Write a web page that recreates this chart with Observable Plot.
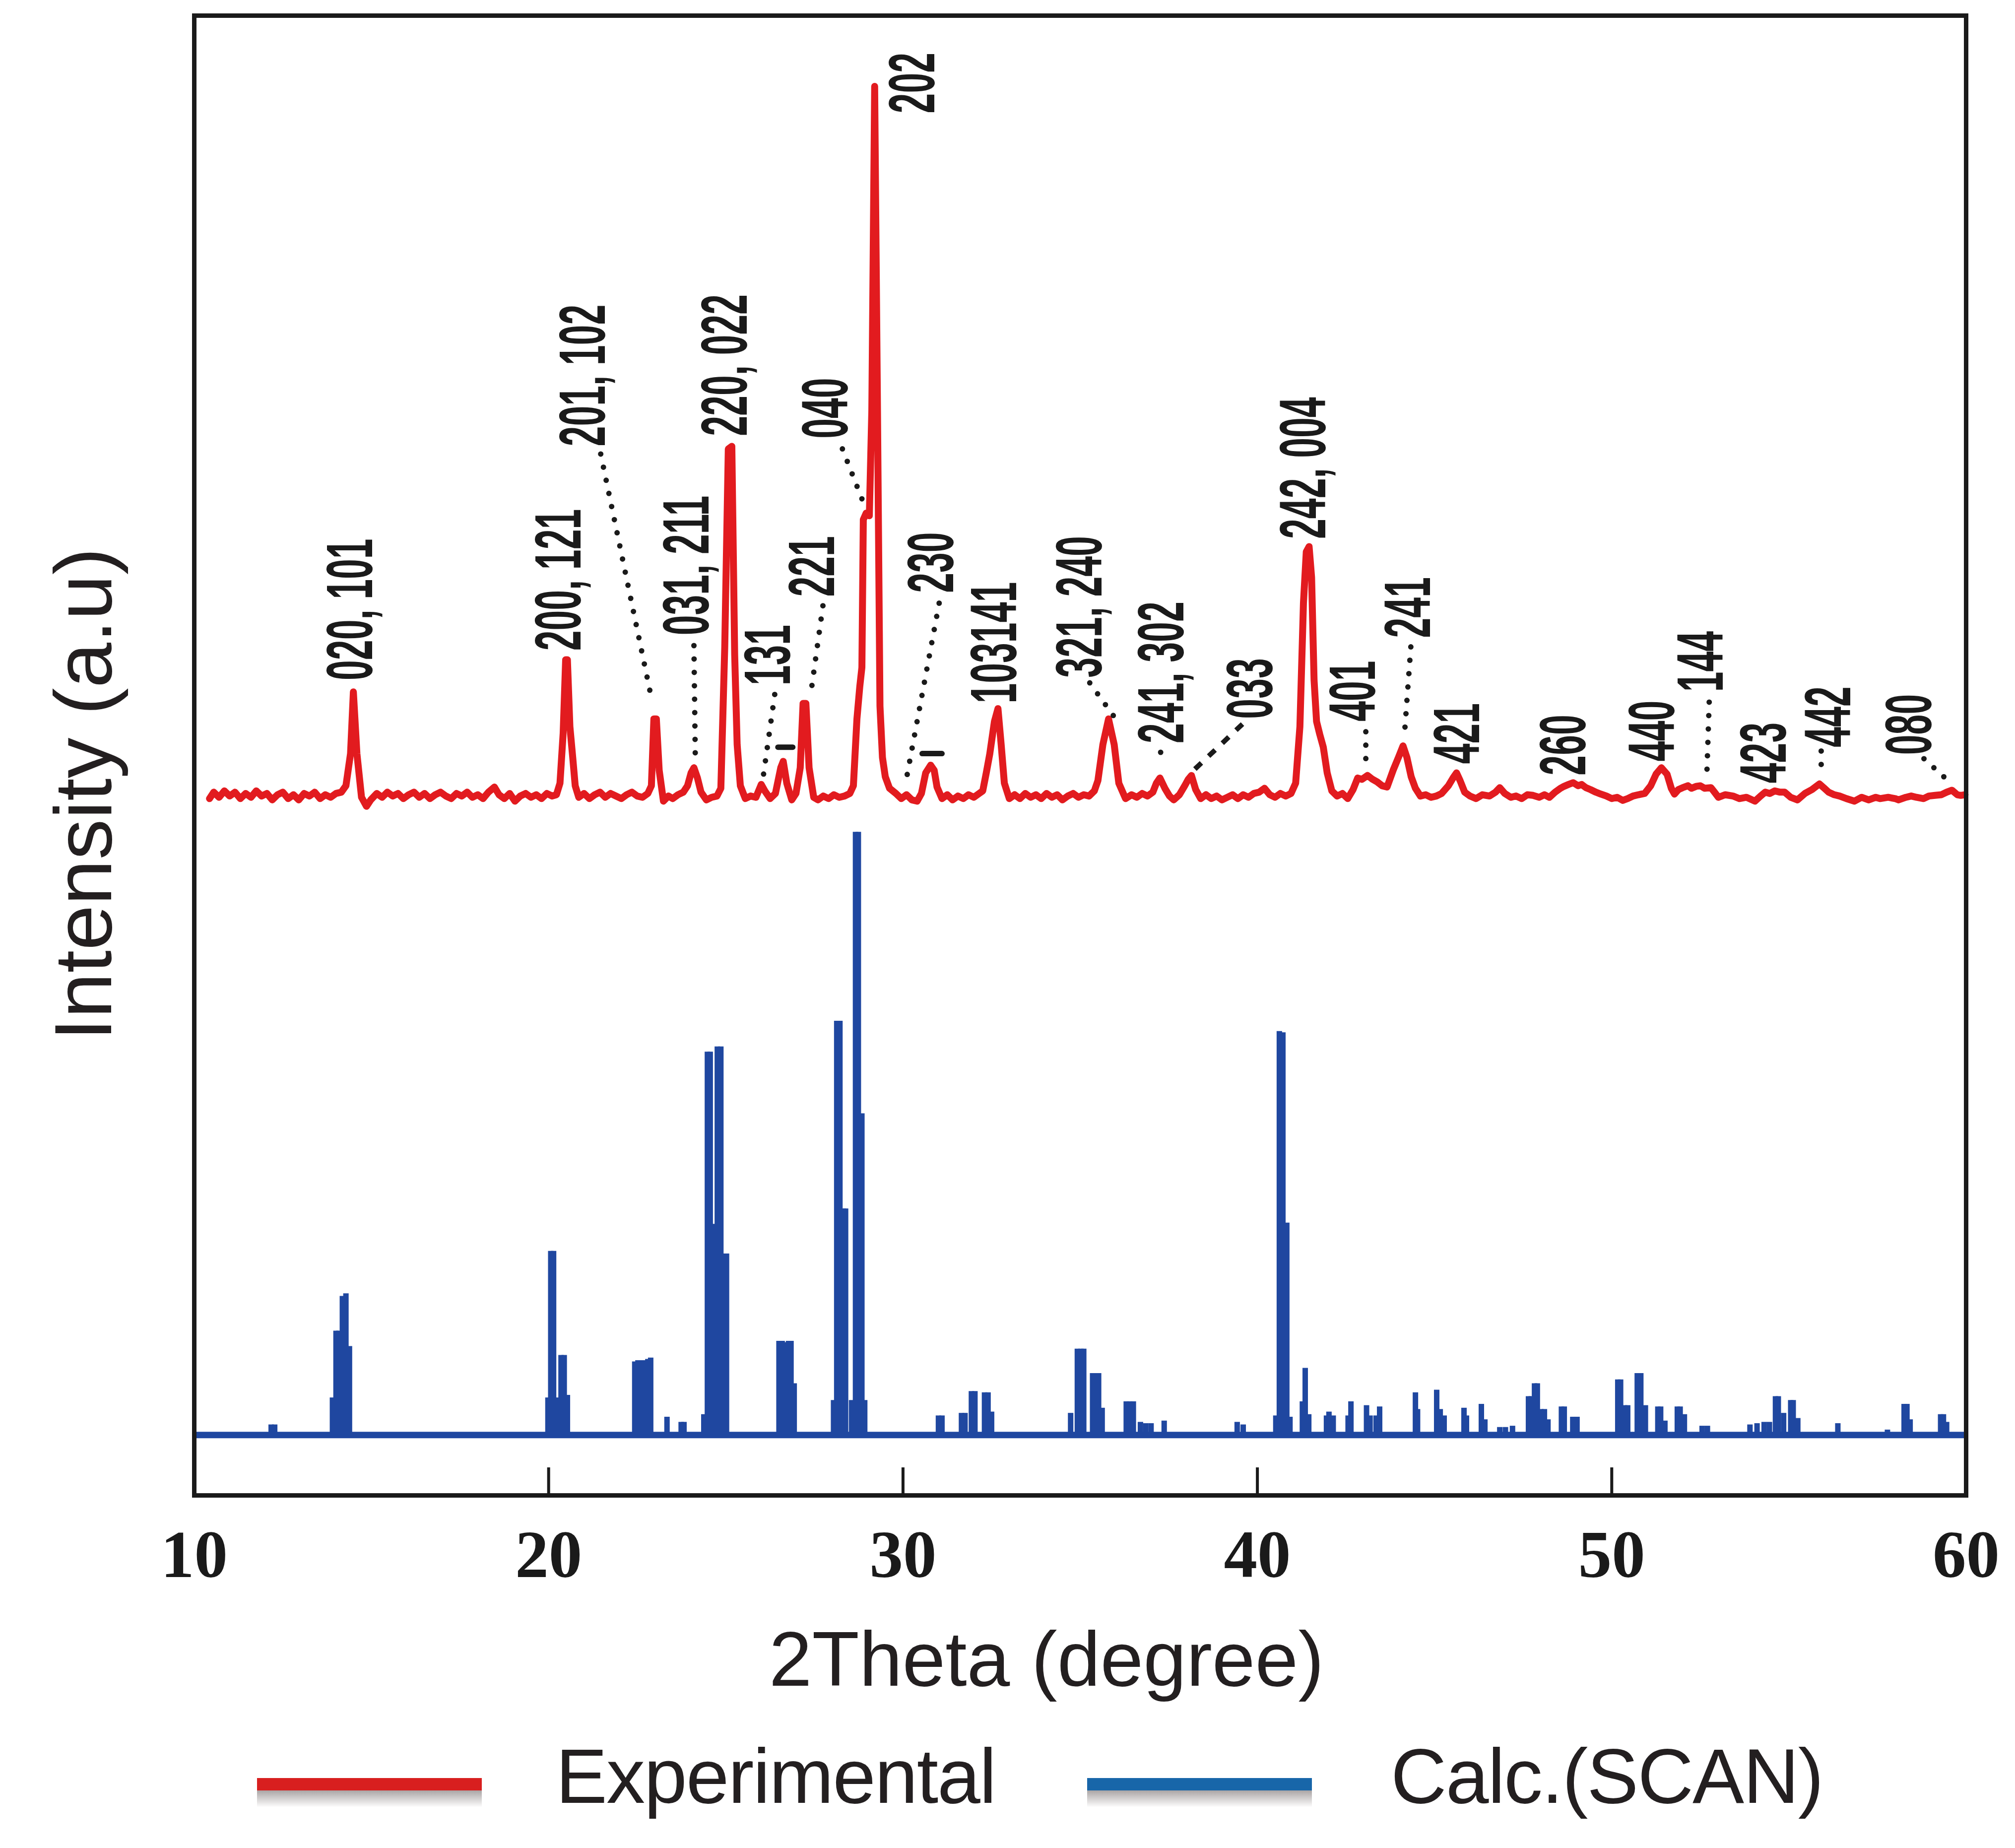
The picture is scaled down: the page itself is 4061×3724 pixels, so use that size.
<!DOCTYPE html>
<html><head><meta charset="utf-8">
<script src="https://cdn.jsdelivr.net/npm/d3@7"></script>
<script src="https://cdn.jsdelivr.net/npm/@observablehq/plot@0.6"></script>
<style>
html,body{margin:0;padding:0;background:#fff;}
#chart{width:4061px;}
#legend{position:relative;width:4061px;height:264px;font-family:"Liberation Sans",Arial,sans-serif;color:#231f20;}
.sw{position:absolute;top:123px;height:25px;width:453px;}
.sw::after{content:"";position:absolute;left:0;right:0;top:25px;height:34px;background:linear-gradient(#aaa5a5,rgba(215,215,215,0));}
.lt{position:absolute;top:41px;font-size:156px;line-height:1;letter-spacing:-2px;white-space:nowrap;}
</style></head><body>
<div id="chart"></div>
<div id="legend"></div>
<script>
// ---- data (2theta in degrees, intensity in arbitrary units) ----
const xTicks = [10, 20, 30, 40, 50, 60];
const seriesNames = ["Experimental", "Calc.(SCAN)"];
const expOffset = 544;   // vertical stacking offset of the experimental pattern
const calcOffset = 47;   // vertical stacking offset of the calculated pattern

// experimental pattern [2theta, intensity above its baseline]
const expPattern = [
[10.43,-2],[10.55,3],[10.7,-1],[10.85,4],[11.0,0],[11.15,3],[11.3,-2],[11.45,2],[11.6,-1],[11.75,4],[11.9,0],[12.05,2],[12.2,-3],[12.35,1],[12.5,3],[12.65,-2],[12.8,1],[12.95,-3],[13.1,2],[13.25,0],[13.4,3],[13.55,-2],[13.7,1],[13.85,-1],[14.0,2],[14.15,3],
[14.28,8],[14.41,33],[14.49,81],[14.59,33],[14.72,-1],[14.86,-8],[14.98,-3],
[15.15,2],[15.3,-1],[15.45,3],[15.6,0],[15.75,2],[15.9,-2],[16.05,1],[16.2,3],[16.35,-1],[16.5,2],[16.65,-2],[16.8,1],[16.95,3],[17.1,0],[17.25,-2],[17.4,2],[17.55,0],[17.7,3],[17.85,-1],[18.0,1],[18.15,-2],[18.3,3],[18.47,7],[18.6,1],[18.75,-2],[18.9,2],[19.05,-4],[19.2,0],[19.35,2],[19.5,-1],[19.65,1],[19.8,-2],[19.95,2],[20.1,0],[20.22,1],
[20.32,10],[20.41,49],[20.48,106],[20.53,106],[20.6,54],[20.68,30],[20.75,8],[20.85,-1],
[21.0,2],[21.15,-2],[21.3,1],[21.45,3],[21.6,-1],[21.75,2],[21.9,0],[22.05,-2],[22.2,1],[22.35,3],[22.5,0],[22.65,-1],[22.8,2],
[22.9,8],[22.97,60],[23.04,60],[23.12,20],[23.24,-4],[23.38,0],[23.5,-2],[23.65,1],[23.8,3],
[23.92,8],[24.02,18],[24.1,22],[24.2,14],[24.3,3],[24.45,-3],[24.6,-1],[24.75,0],
[24.86,6],[24.97,116],[25.07,270],[25.17,272],[25.25,110],[25.32,40],[25.41,8],[25.55,-2],[25.7,0],[25.85,-1],
[26.0,9],[26.1,4],[26.25,-2],[26.4,2],
[26.55,22],[26.62,27],[26.72,10],[26.86,-3],[26.98,2],
[27.1,22],[27.18,72],[27.26,72],[27.35,22],[27.48,-1],[27.6,-3],[27.75,0],[27.9,-2],[28.05,1],[28.2,-1],[28.35,0],[28.5,2],
[28.6,8],[28.7,60],[28.78,85],[28.84,100],[28.88,215],[28.96,220],[29.05,218],[29.12,300],[29.2,552],[29.28,300],[29.35,70],[29.42,30],[29.5,15],[29.62,6],[29.8,2],
[29.95,-2],[30.1,1],[30.25,-3],[30.4,-4],[30.52,2],
[30.64,18],[30.78,24],[30.88,20],[30.96,7],[31.1,-2],[31.25,1],[31.4,-3],[31.55,0],[31.7,-2],[31.85,1],[32.0,-1],[32.15,2],[32.25,4],
[32.35,18],[32.45,33],[32.58,58],[32.68,68],[32.77,40],[32.86,10],[33.0,-2],
[33.15,1],[33.3,-2],[33.45,2],[33.6,-1],[33.75,1],[33.9,-2],[34.05,2],[34.2,-1],[34.35,1],[34.5,-3],[34.65,0],[34.8,2],[34.95,-1],[35.1,1],[35.25,0],[35.4,4],
[35.5,12],[35.64,40],[35.8,60],[35.96,40],[36.09,10],[36.28,-2],[36.45,1],[36.6,-1],[36.75,2],[36.9,0],[37.05,3],
[37.15,10],[37.25,14],[37.39,6],[37.52,0],[37.64,-3],[37.8,1],[37.95,8],[38.05,13],[38.14,16],[38.26,5],[38.4,-2],[38.55,1],[38.7,-2],[38.85,0],[39.0,-3],[39.15,-1],[39.3,1],[39.45,-2],[39.6,1],[39.75,-1],[39.9,2],[40.05,3],[40.2,6],[40.35,1],[40.5,-1],[40.65,2],[40.8,0],[40.95,2],
[41.08,10],[41.2,54],[41.3,150],[41.38,190],[41.46,194],[41.53,170],[41.6,90],[41.67,58],[41.76,48],[41.86,38],[41.97,18],[42.1,4],[42.25,0],[42.4,2],[42.55,-2],[42.7,5],
[42.83,14],[42.95,13],[43.11,16],[43.25,13],[43.38,11],[43.52,8],[43.66,7],
[43.83,20],[43.98,30],[44.11,39],[44.22,30],[44.34,15],[44.46,6],[44.6,0],[44.75,1],[44.9,-1],[45.05,0],[45.2,2],
[45.39,8],[45.52,14],[45.62,18],[45.72,12],[45.85,3],[46.0,0],[46.17,-2],[46.35,1],[46.55,0],[46.72,3],[46.84,6.5],[46.98,2],[47.15,-1],[47.3,0],[47.46,-2],[47.62,1],[47.78,0.5],[47.95,-1],[48.1,1],[48.24,-1],[48.4,3],[48.55,6],[48.65,7.5],[48.78,9],[48.91,10.4],[49.05,8],[49.15,9],[49.27,6.5],[49.4,5],[49.55,3],[49.69,1.5],[49.85,0],[50.0,-2],[50.15,-1],[50.31,-3.4],[50.45,-2],[50.6,0],[50.75,1],[50.93,2],
[51.1,8],[51.25,17],[51.4,22],[51.56,17],[51.68,6],[51.77,1.5],[51.88,5],[52.0,6.5],[52.15,8],[52.25,6],[52.38,7.5],[52.5,8],[52.62,6],[52.8,6.5],[52.9,3],[53.01,-1],[53.2,1],[53.42,0],[53.6,-2],[53.8,-1],[54.04,-4],[54.2,0],[54.33,3],[54.46,2],[54.6,4],[54.75,3],[54.88,3],[55.05,-1],[55.24,-3],[55.45,2],[55.65,5],[55.86,9.4],[56.0,6],[56.12,3],[56.28,1],[56.43,0],[56.62,-2],[56.85,-4],[57.05,-1],[57.25,-3],[57.45,-1],[57.57,-2],[57.8,-1],[58.0,-2],[58.09,-3],[58.3,-1],[58.45,0],[58.6,-1],[58.8,-2],[58.95,0],[59.12,0.5],[59.3,1],[59.45,3],[59.6,4.5],[59.75,1],[59.85,0.5],[59.97,1]
];

// calculated (SCAN) reflections [2theta, intensity above its baseline]
const calcSticks = [
[12.17,8],[12.27,8],
[13.9,29],[14.0,81],[14.08,81],[14.18,108],[14.28,110],[14.38,69],
[19.98,29],[20.06,143],[20.14,143],[20.24,29],[20.35,62],[20.44,62],[20.53,31],
[22.43,57],[22.52,58],[22.61,58],[22.7,58],[22.8,59],[22.88,60],
[23.34,14],[23.74,10],[23.82,10],
[24.38,16],[24.48,298],[24.56,298],[24.64,164],[24.76,302],[24.86,302],[24.95,141],[25.02,141],
[26.5,73],[26.59,73],[26.68,72],[26.77,73],[26.84,73],[26.93,40],
[28.04,27],[28.13,322],[28.22,322],[28.32,176],[28.38,176],
[28.55,27],[28.66,469],[28.74,469],[28.84,250],[28.92,27],
[31.0,15],[31.1,15],
[31.65,17],[31.75,17],[31.93,34],[32.03,34],[32.3,33],[32.4,33],[32.5,18],
[34.73,17],[34.92,67],[35.02,67],[35.1,67],[35.35,48],[35.45,48],[35.52,48],[35.62,21],
[36.3,26],[36.4,26],[36.5,26],[36.7,10],[36.85,9],[37.0,9],[37.37,11],
[39.43,10],[39.6,8],
[40.52,15],[40.62,314],[40.72,313],[40.83,165],[40.92,14],
[41.27,26],[41.35,52],[41.45,16],
[41.95,15],[42.02,18],[42.14,15],
[42.56,15],[42.64,26],
[43.08,23],[43.18,15],[43.35,15],[43.45,22],
[44.46,33],[44.52,20],
[45.06,35],[45.16,20],[45.27,15],
[45.83,21],[45.9,15],
[46.32,24],[46.42,12],
[46.84,6],[47.0,6],[47.2,7],
[47.65,30],[47.73,30],[47.82,40],[47.9,40],[48.0,20],[48.1,20],[48.2,12],[48.58,22],[48.66,22],[48.9,14],[49.02,14],
[50.17,43],[50.25,43],[50.36,23],[50.45,23],[50.72,48],[50.82,48],[50.95,23],[51.3,22],[51.38,22],[51.5,11],[51.85,22],[51.93,22],[52.05,16],[52.55,7],[52.7,7],
[53.9,8],[54.1,9],[54.3,10],[54.45,10],[54.62,30],[54.7,30],[54.85,17],[55.05,27],[55.12,27],[55.25,13],
[56.38,9],[57.78,4],
[58.25,24],[58.33,24],[58.42,12],
[59.28,16],[59.36,16],[59.45,10]
];

// Miller-index labels [text, 2theta, height on the experimental scale]
const hklLabels = [
["020, 101",14.43,90],["200, 121",20.32,113],["201, 102",21.0,272],["031, 211",23.93,125],
["220, 022",25.0,280],["131",26.22,86],["221",27.47,155],["040",27.85,278],["202",30.3,531],
["230",30.83,158],["103141",32.61,72],["321, 240",35.02,92],["241, 302",37.33,41],["033",39.83,60],
["242, 004",41.33,200],["401",42.73,58],["241",44.29,123],["421",45.67,25],["260",48.67,16],
["440",51.17,27],["144",52.54,81],["423",54.33,10],["442",56.14,38],["080",58.42,32]
];
// dotted leader lines [2theta1, h1, 2theta2, h2]
const dottedLeaders = [
[21.47,266,22.91,75],[24.1,117,24.14,27],[26.38,79,26.05,14],[27.74,148,27.38,76],
[28.29,270,28.97,222],[31.02,150,30.1,14],[35.27,88,35.95,62],[37.27,34,37.27,24],
[43.06,50,43.06,20],[44.33,116,44.14,44],[52.75,73,52.68,14],[55.91,35,55.91,16],[58.81,29,59.49,12]
];
const dashedLeaders = [[39.58,56,38.2,20]];
// small horizontal markers above minor reflections [2theta1, 2theta2, height]
const minorMarks = [[26.47,26.89,38],[30.54,31.1,33]];

// ---- chart ----
const W = 4061, H = 3460;
const mTop = 31, mBottom = H - 3013, mLeft = 391, mRight = W - 3962;
const frameH = H - mTop - mBottom;
const red = "#e21b1f", blue = "#1f47a0", ink = "#1a1a1a";
const sans = "Liberation Sans, Arial, Helvetica, sans-serif";
const hklSize = 131;

const chart = Plot.plot({
  width: W, height: H,
  marginTop: mTop, marginBottom: mBottom, marginLeft: mLeft, marginRight: mRight,
  style: {fontFamily: sans, background: "#fff", color: ink},
  x: {domain: [10, 60]},
  y: {domain: [0, 1151], axis: null},
  marks: [
    Plot.ruleY([calcOffset], {stroke: blue, strokeWidth: 13}),
    Plot.ruleX(calcSticks, {x: d => d[0], y1: calcOffset, y2: d => calcOffset + d[1], stroke: blue, strokeWidth: 11}),
    Plot.line(expPattern, {x: d => d[0], y: d => expOffset + d[1], stroke: red, strokeWidth: 14, strokeLinejoin: "round", curve: "linear"}),
    Plot.link(dottedLeaders, {x1: d => d[0], y1: d => expOffset + d[1], x2: d => d[2], y2: d => expOffset + d[3],
      stroke: ink, strokeWidth: 11, strokeDasharray: "0 27", strokeLinecap: "round"}),
    Plot.link(dashedLeaders, {x1: d => d[0], y1: d => expOffset + d[1], x2: d => d[2], y2: d => expOffset + d[3],
      stroke: ink, strokeWidth: 10, strokeDasharray: "18 20"}),
    Plot.link(minorMarks, {x1: d => d[0], x2: d => d[1], y1: d => expOffset + d[2], y2: d => expOffset + d[2],
      stroke: ink, strokeWidth: 11, strokeLinecap: "round"}),
    Plot.text(hklLabels, {x: d => d[1], y: d => expOffset + d[2], text: d => d[0], rotate: -90,
      textAnchor: "start", lineAnchor: "middle", fontSize: hklSize, fontWeight: "bold", fill: ink, fontFamily: sans}),
    Plot.frame({stroke: ink, strokeWidth: 9}),
    Plot.ruleX(xTicks.filter(t => t > 10 && t < 60), {stroke: ink, strokeWidth: 6, insetTop: frameH - 56}),
    Plot.axisX({ticks: xTicks, tickSize: 0, tickPadding: 69, fontSize: 135, fontWeight: "bold",
      fontFamily: "Liberation Serif, Times New Roman, serif", label: null, fill: ink}),
    Plot.text(["2Theta (degree)"], {frameAnchor: "bottom", textAnchor: "middle", lineAnchor: "middle", dx: -68, dy: 334, fontSize: 156, fill: "#231f20"}),
    Plot.text(["Intensity (a.u)"], {frameAnchor: "left", rotate: -90, textAnchor: "middle", lineAnchor: "middle", dx: -220, dy: 78, fontSize: 164, fill: "#231f20"})
  ]
});
document.getElementById("chart").appendChild(chart);

// condense the Miller-index labels like the narrow bold face of the original
const hklSet = new Set(hklLabels.map(d => d[0]));
chart.querySelectorAll("text").forEach(t => {
  const g = t.closest("g");
  const fs = g ? g.getAttribute("font-size") : null;
  if (fs === String(hklSize) && hklSet.has(t.textContent)) {
    const len = t.getComputedTextLength();
    if (len > 0) {
      t.setAttribute("textLength", (len * 0.56).toFixed(1));
      t.setAttribute("lengthAdjust", "spacingAndGlyphs");
    }
  }
});

// ---- legend ----
const legend = document.getElementById("legend");
const legendColors = ["#d81f1f", "#1866a9"];
const swatchLeft = [518, 2191], textLeft = [1120, 2803];
seriesNames.forEach((name, i) => {
  const sw = document.createElement("div");
  sw.className = "sw";
  sw.style.left = swatchLeft[i] + "px";
  sw.style.background = legendColors[i];
  legend.appendChild(sw);
  const tx = document.createElement("div");
  tx.className = "lt";
  tx.style.left = textLeft[i] + "px";
  tx.textContent = name;
  legend.appendChild(tx);
});
</script></body></html>
